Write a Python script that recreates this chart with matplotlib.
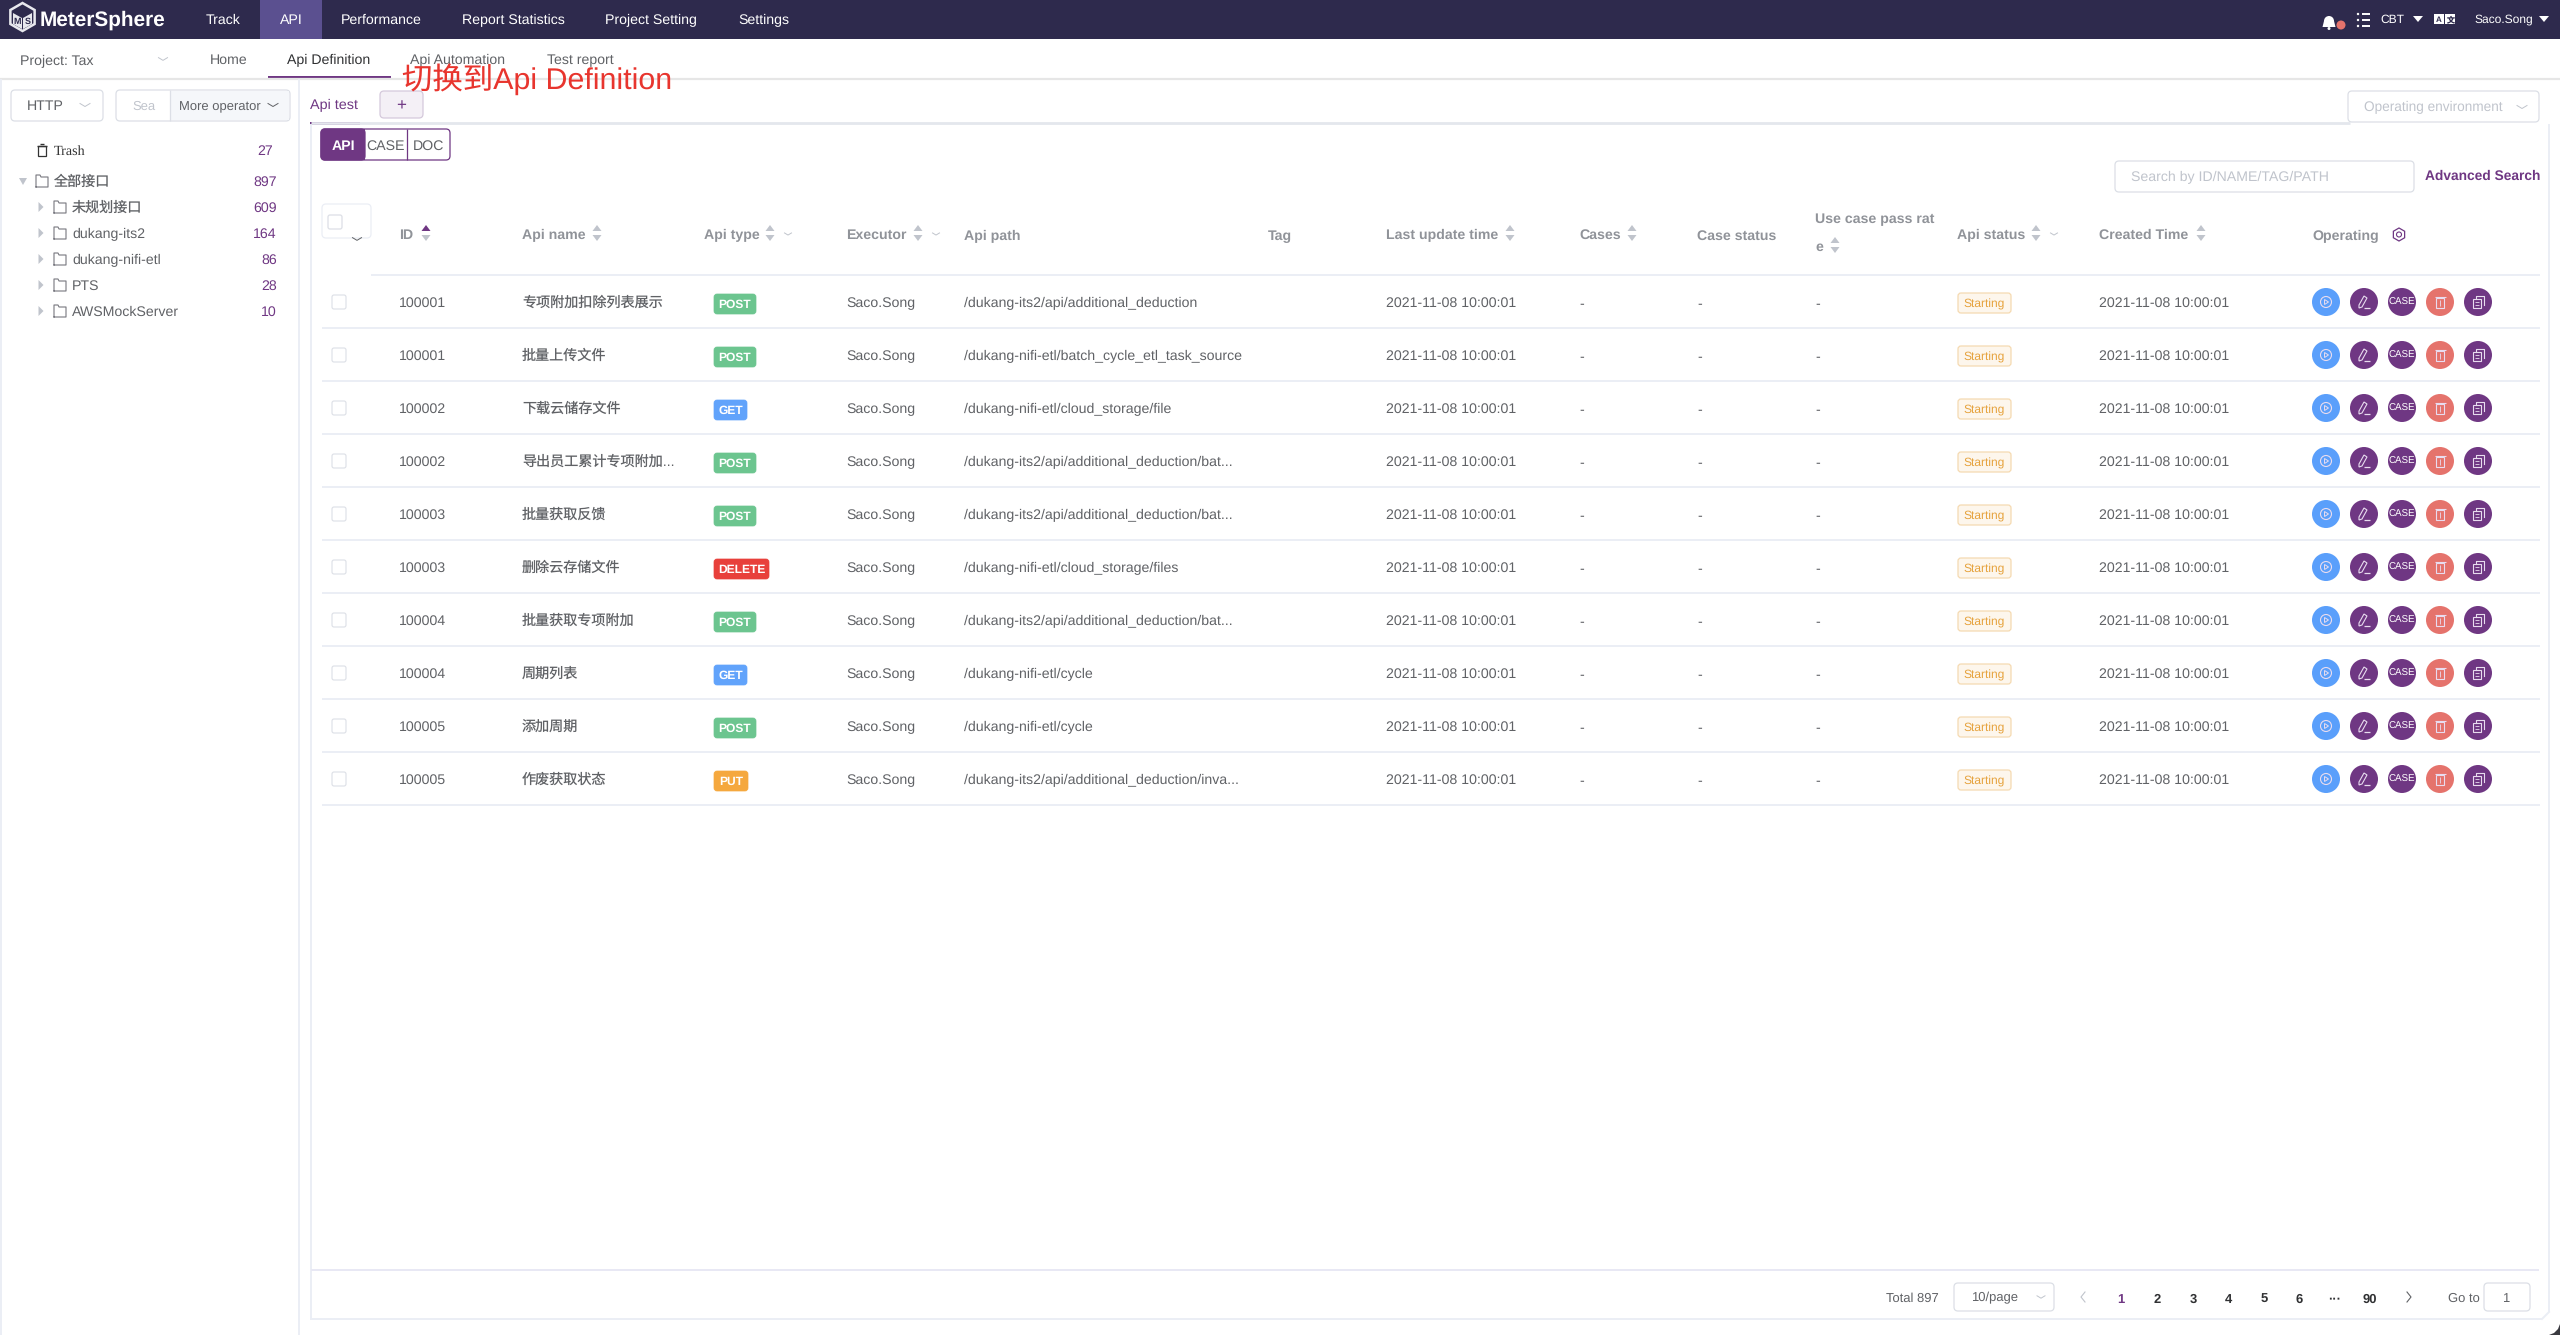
import matplotlib
matplotlib.use("Agg")
import matplotlib.pyplot as plt
from matplotlib.patches import Rectangle, Circle, FancyBboxPatch, Polygon, RegularPolygon

plt.rcParams['font.family'] = ['Liberation Sans', 'Noto Sans CJK SC', 'DejaVu Sans']
plt.rcParams['text.hinting'] = 'no_hinting'

# Table content
api_ids = ['100001', '100001', '100002', '100002', '100003', '100003', '100004', '100004', '100005', '100005']
api_names = ['专项附加扣除列表展示', '批量上传文件', '下载云储存文件', '导出员工累计专项附加...', '批量获取反馈',
             '删除云存储文件', '批量获取专项附加', '周期列表', '添加周期', '作废获取状态']
api_types = ['POST', 'POST', 'GET', 'POST', 'POST', 'DELETE', 'POST', 'GET', 'POST', 'PUT']
api_paths = ['/dukang-its2/api/additional_deduction',
             '/dukang-nifi-etl/batch_cycle_etl_task_source',
             '/dukang-nifi-etl/cloud_storage/file',
             '/dukang-its2/api/additional_deduction/bat...',
             '/dukang-its2/api/additional_deduction/bat...',
             '/dukang-nifi-etl/cloud_storage/files',
             '/dukang-its2/api/additional_deduction/bat...',
             '/dukang-nifi-etl/cycle',
             '/dukang-nifi-etl/cycle',
             '/dukang-its2/api/additional_deduction/inva...']
executor = 'Saco.Song'
timestamp = '2021-11-08 10:00:01'
status = 'Starting'

# Sidebar and navigation
tree_names = ['全部接口', '未规划接口', 'dukang-its2', 'dukang-nifi-etl', 'PTS', 'AWSMockServer']
tree_counts = [897, 609, 164, 86, 28, 10]
trash_count = 27
nav_items = ['Track', 'API', 'Performance', 'Report Statistics', 'Project Setting', 'Settings']
sub_items = ['Home', 'Api Definition', 'Api Automation', 'Test report']
page_items = ['1', '2', '3', '4', '5', '6', '90']
total_items = 897

# Colours
NAVY = '#2e2a4d'
TAB = '#5b5090'
PURPLE = '#6f3783'
TXT = '#606266'
HEAD = '#909399'
LINE = '#ebeef5'
BORDER = '#dcdfe6'
PALE = '#c0c4cc'
BADGE = {'POST': '#6cc58f', 'GET': '#61a3fb', 'DELETE': '#e8403b', 'PUT': '#f5a83e'}
BADGE_W = {'POST': 42, 'GET': 33, 'DELETE': 55, 'PUT': 34}

fig = plt.figure(figsize=(25.6, 13.35), dpi=100)
ax = fig.add_axes([0, 0, 1, 1])
ax.set_xlim(0, 2560)
ax.set_ylim(1335, 0)
ax.axis('off')


def t(x, y, s, size=14.1, color=TXT, ha='left', weight='normal', **kw):
    # size is in screen pixels, y is the middle of the capitals
    ax.text(x, y + 0.36 * size, s, fontsize=size * 0.72, color=color, ha=ha, va='baseline', fontweight=weight, **kw)


def rbox(x0, y0, x1, y1, fc='white', ec=BORDER, r=4, lw=0.9):
    ax.add_patch(FancyBboxPatch((x0, y0), x1 - x0, y1 - y0, boxstyle=f'round,pad=0,rounding_size={r}',
                                fc=fc, ec=ec, lw=lw))


def hline(x0, x1, y, color=LINE, lw=1.4):
    ax.plot([x0, x1], [y, y], color=color, lw=lw, solid_capstyle='butt')


def vline(x, y0, y1, color=LINE, lw=1.4):
    ax.plot([x, x], [y0, y1], color=color, lw=lw, solid_capstyle='butt')


def chevron(x, y, w=5, color=PALE, lw=0.7):
    d = w * 0.6
    ax.plot([x - w, x, x + w], [y - d / 2, y + d / 2, y - d / 2], color=color, lw=lw)


def sort_icon(x, y, up_color=PALE):
    ax.add_patch(Polygon([(x - 4.5, y - 2), (x + 4.5, y - 2), (x, y - 8)], fc=up_color, ec='none'))
    ax.add_patch(Polygon([(x - 4.5, y + 2), (x + 4.5, y + 2), (x, y + 8)], fc=PALE, ec='none'))


def caret(x, y, color='white'):
    ax.add_patch(Polygon([(x - 5, y - 3), (x + 5, y - 3), (x, y + 3)], fc=color, ec='none'))


def folder(x, y):
    ax.plot([x, x, x + 4, x + 5, x + 12, x + 12, x], [y + 6, y - 6, y - 6, y - 4, y - 4, y + 6, y + 6],
            color='#77777f', lw=0.8)


def small_tri(x, y, down=False):
    if down:
        ax.add_patch(Polygon([(x - 4, y - 3), (x + 4, y - 3), (x, y + 4)], fc=PALE, ec='none'))
    else:
        ax.add_patch(Polygon([(x - 2.5, y - 5), (x - 2.5, y + 5), (x + 2.5, y)], fc=PALE, ec='none'))


# ---- top bar
ax.add_patch(Rectangle((0, 0), 2560, 39, fc=NAVY, ec='none'))
ax.add_patch(Rectangle((260, 0), 62, 39, fc=TAB, ec='none'))
# cube logo
ax.add_patch(RegularPolygon((22.5, 17), 6, radius=14, fc=NAVY, ec='#e8e8ee', lw=1.8))
ax.add_patch(Polygon([(13, 13), (22, 18), (22, 29), (13, 24)], fc='#e8e8ee', ec='none'))
ax.add_patch(Polygon([(32, 13), (23, 18), (23, 29), (32, 24)], fc='#e8e8ee', ec='none'))
t(17.5, 20.5, 'M', size=9, color=NAVY, ha='center', weight='bold')
t(27.5, 20.5, 'S', size=9, color=NAVY, ha='center', weight='bold')
t(40, 18.5, 'MeterSphere', size=20.8, color='white', weight='bold')
for name, x in zip(nav_items, [206, 280, 341, 462, 605, 738]):
    t(x, 19, name, color='white')

# right side of the top bar
ax.add_patch(Circle((2329, 21), 5, fc='white', ec='none'))
ax.add_patch(Polygon([(2324, 21), (2334, 21), (2335.5, 27), (2322.5, 27)], fc='white', ec='none'))
ax.add_patch(Circle((2329, 28.5), 1.5, fc='white', ec='none'))
ax.add_patch(Circle((2341, 25), 4.5, fc='#e5736c', ec='none'))
for dy in (-6, 0, 6):
    hline(2362, 2370, 20 + dy, color='white', lw=1.4)
    ax.add_patch(Circle((2358, 20 + dy), 1.2, fc='white', ec='none'))
t(2380, 18.5, 'CBT', size=12, color='white')
caret(2418, 19)
ax.add_patch(Rectangle((2434, 14), 10, 10, fc='white', ec='none'))
ax.add_patch(Rectangle((2445, 14), 10, 10, fc='white', ec='none'))
t(2439, 19, 'A', size=8, color=NAVY, ha='center', weight='bold')
t(2450, 19, '文', size=8, color=NAVY, ha='center', weight='bold')
t(2474, 18.5, 'Saco.Song', size=12, color='white')
caret(2544, 19)

# ---- second row
t(20, 60, 'Project: Tax')
chevron(163, 59, w=4.5)
for name, x in zip(sub_items, [210, 287, 410, 547]):
    t(x, 59, name, color='#303133' if name == 'Api Definition' else TXT)
hline(0, 2560, 78.5, color='#e6e6e6', lw=1.6)
ax.add_patch(Rectangle((268, 75.5), 123, 3, fc=PURPLE, ec='none'))

# ---- sidebar
vline(299, 79, 1335)
vline(1, 79, 1335)
rbox(11, 90, 103, 121)
t(27, 105, 'HTTP', color=TXT)
chevron(85, 105)
rbox(116, 90, 290, 121)
ax.add_patch(Rectangle((170, 91), 119, 29, fc='#f5f7fa', ec='none'))
vline(170, 90, 121, color=BORDER, lw=0.9)
t(132, 105, 'Sea', size=13, color=PALE)
t(179, 106, 'More operator', size=13)
chevron(273, 105, color=TXT)

# trash
ax.add_patch(Rectangle((38, 146), 8, 10, fc='none', ec='#333333', lw=0.9))
hline(37, 47, 145.5, color='#333333', lw=1)
hline(40, 44, 143.5, color='#333333', lw=1)
t(54, 150, 'Trash', color='#333333', family='Liberation Serif')
t(273, 150, str(trash_count), color=PURPLE, ha='right')

tree_y = 181
for i, (name, count) in enumerate(zip(tree_names, tree_counts)):
    y = tree_y + 26 * i
    if i == 0:
        small_tri(23, y, down=True)
        folder(36, y)
        t(54, y, name)
    else:
        small_tri(41, y)
        folder(54, y)
        t(72, y, name)
    t(277, y, str(count), color=PURPLE, ha='right')

# ---- main panel
vline(311, 124, 1320)
vline(2549, 124, 1312)
hline(311, 2542, 1319)
ax.plot([2542, 2549], [1319, 1312], color=LINE, lw=1.4)
t(310, 104, 'Api test', size=14.4, color=PURPLE)
rbox(380, 91, 423, 118, fc='#f4f0f6', ec='#d5c9dc')
t(401.5, 104, '+', size=17, color=PURPLE, ha='center')
hline(311, 2350, 123, color='#e4e7ed', lw=2)
ax.add_patch(Rectangle((310, 121.5), 50, 3, fc=PURPLE, ec='none'))
rbox(2348, 91, 2539, 122)
t(2364, 106, 'Operating environment', size=13.6, color=PALE)
chevron(2522, 107)

# API/CASE/DOC switch
rbox(321, 129, 450, 160, ec=PURPLE)
ax.add_patch(FancyBboxPatch((321, 129), 44, 31, boxstyle='round,pad=0,rounding_size=4', fc=PURPLE, ec=PURPLE, lw=0.9))
ax.add_patch(Rectangle((355, 129), 10, 31, fc=PURPLE, ec='none'))
vline(407, 129, 160, color=PURPLE, lw=0.9)
t(343, 145, 'API', color='white', ha='center', weight='bold')
t(386, 145, 'CASE', ha='center')
t(429, 145, 'DOC', ha='center')

# search
rbox(2115, 161, 2414, 192)
t(2131, 176, 'Search by ID/NAME/TAG/PATH', color=PALE)
t(2425, 175, 'Advanced Search', size=13.7, color=PURPLE, weight='bold')

# ---- table header
head_y = 234
rbox(322, 204, 371, 238, ec=LINE)
rbox(328, 215, 342, 229, ec=BORDER, r=2)
chevron(357, 239, w=4.5, color=TXT, lw=0.7)
t(399, head_y, 'ID', color=HEAD, weight='bold')
sort_icon(426, head_y - 1, up_color=PURPLE)
t(522, head_y, 'Api name', color=HEAD, weight='bold')
sort_icon(597, head_y - 1)
t(704, head_y, 'Api type', color=HEAD, weight='bold')
sort_icon(770, head_y - 1)
chevron(788, head_y, w=3.5, lw=0.7)
t(846, head_y, 'Executor', color=HEAD, weight='bold')
sort_icon(918, head_y - 1)
chevron(936, head_y, w=3.5, lw=0.7)
t(964, head_y + 1, 'Api path', color=HEAD, weight='bold')
t(1268, head_y + 1, 'Tag', color=HEAD, weight='bold')
t(1386, head_y, 'Last update time', color=HEAD, weight='bold')
sort_icon(1510, head_y - 1)
t(1579, head_y, 'Cases', color=HEAD, weight='bold')
sort_icon(1632, head_y - 1)
t(1697, head_y + 1, 'Case status', color=HEAD, weight='bold')
t(1815, 218, 'Use case pass rat', color=HEAD, weight='bold')
t(1815, 246, 'e', color=HEAD, weight='bold')
sort_icon(1835, 245)
t(1957, head_y, 'Api status', color=HEAD, weight='bold')
sort_icon(2036, head_y - 1)
chevron(2054, head_y, w=3.5, lw=0.7)
t(2099, head_y, 'Created Time', color=HEAD, weight='bold')
sort_icon(2201, head_y - 1)
t(2312, head_y + 1, 'Operating', color=HEAD, weight='bold')
ax.add_patch(RegularPolygon((2399, 234.5), 6, radius=6.5, fc='none', ec=PURPLE, lw=0.9))
ax.add_patch(Circle((2399, 234.5), 2.5, fc='none', ec=PURPLE, lw=0.8))
hline(371, 2540, 275)

# ---- table rows
op_x = [2326, 2364, 2402, 2440, 2478]
op_colors = ['#5a9ffb', PURPLE, PURPLE, '#e5736c', PURPLE]
ICON = '#e8dcef'
row_step = 53
for i, (rid, name, kind, path) in enumerate(zip(api_ids, api_names, api_types, api_paths)):
    y = 302 + row_step * i
    rbox(332, y - 7, 346, y + 7, ec=BORDER, r=2, lw=0.8)
    t(399, y, rid)
    t(522, y, name)
    rbox(714, y - 8, 714 + BADGE_W[kind], y + 12, fc=BADGE[kind], ec=BADGE[kind], r=3, lw=0.5)
    t(714 + BADGE_W[kind] / 2, y + 1.5, kind, size=12, color='white', ha='center', weight='bold')
    t(846, y, executor)
    t(964, y, path)
    t(1386, y, timestamp)
    for x in (1579, 1697, 1815):
        t(x, y + 1, '-')
    rbox(1958, y - 9, 2011, y + 11, fc='#fdf6ec', ec='#f5dab1', r=3, lw=0.9)
    t(1984.5, y + 1, status, size=12, color='#e6a23c', ha='center')
    t(2099, y, timestamp)
    for x, c in zip(op_x, op_colors):
        ax.add_patch(Circle((x, y), 14, fc=c, ec='none'))
    # run
    ax.add_patch(Circle((op_x[0], y), 5.5, fc='none', ec=ICON, lw=0.8))
    ax.add_patch(Polygon([(op_x[0] - 1.5, y - 2.5), (op_x[0] - 1.5, y + 2.5), (op_x[0] + 2.5, y)],
                         fc='none', ec=ICON, lw=0.7))
    # edit
    ax.add_patch(Polygon([(op_x[1] - 5, y + 3), (op_x[1], y - 6), (op_x[1] + 3, y - 4),
                          (op_x[1] - 2, y + 5), (op_x[1] - 5, y + 6)], fc='none', ec=ICON, lw=0.8))
    hline(op_x[1], op_x[1] + 6, y + 6, color=ICON, lw=0.9)
    # case
    t(op_x[2], y - 0.5, 'CASE', size=9.8, color='white', ha='center')
    # delete
    ax.add_patch(Rectangle((op_x[3] - 4, y - 4), 8, 10, fc='none', ec=ICON, lw=0.8))
    hline(op_x[3] - 5.5, op_x[3] + 5.5, y - 5, color=ICON, lw=0.8)
    vline(op_x[3], y - 2, y + 4, color=ICON, lw=0.6)
    # copy
    ax.add_patch(Rectangle((op_x[4] - 5, y - 3), 8, 9, fc=PURPLE, ec=ICON, lw=0.8))
    ax.plot([op_x[4] - 2, op_x[4] - 2, op_x[4] + 6, op_x[4] + 6], [y - 3, y - 6, y - 6, y + 3], color=ICON, lw=0.8)
    hline(op_x[4] - 3, op_x[4] + 1, y, color=ICON, lw=0.6)
    hline(op_x[4] - 3, op_x[4] + 1, y + 3, color=ICON, lw=0.6)
    hline(322, 2540, y + 26)

# ---- pagination
hline(311, 2539, 1270, color='#e8e8f4')
t(1886, 1297, f'Total {total_items}', size=13)
rbox(1954, 1283, 2054, 1311)
t(1995, 1297, '10/page', ha='center', size=13)
chevron(2041, 1297, w=4)
ax.plot([2085, 2081, 2085], [1292, 1297, 1302], color=PALE, lw=0.8)
ax.plot([2407, 2411, 2407], [1292, 1297, 1302], color=TXT, lw=0.8)
for s, x in zip(page_items, [2121, 2157, 2193, 2228, 2264, 2299, 2370]):
    t(x, 1298, s, size=13, color=PURPLE if s == '1' else '#303133', ha='center', weight='bold')
t(2335, 1298, '···', size=13, color='#303133', ha='center', weight='bold')
t(2448, 1297, 'Go to', size=13)
rbox(2484, 1283, 2530, 1311)
t(2506, 1297, '1', size=13, ha='center')

# screen corner
ax.add_patch(Polygon([(2560, 1324), (2558, 1329), (2554, 1333), (2549, 1335), (2560, 1335)], fc='#3a3a40', ec='none'))

# ---- red note on top of everything
t(402, 78, '切换到Api Definition', size=30.4, color='#e8352e')

fig.savefig('out.png', dpi=100)
